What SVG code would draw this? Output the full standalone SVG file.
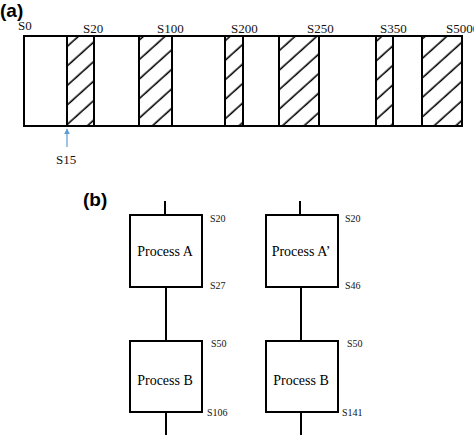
<svg xmlns="http://www.w3.org/2000/svg" width="474" height="435" viewBox="0 0 474 435">
<defs>
<pattern id="hatch" patternUnits="userSpaceOnUse" width="10" height="14.5" patternTransform="rotate(-42)">
<line x1="-1" y1="7" x2="11" y2="7" stroke="#000" stroke-width="1.6"/>
</pattern>
<marker id="arr" viewBox="0 0 10 10" refX="9" refY="5" markerWidth="5" markerHeight="5" orient="auto">
<path d="M0,0 L10,5 L0,10 z" fill="#5b9bd5"/>
</marker>
<style>
.ln{stroke:#000;stroke-width:2;fill:none}
.box{stroke:#000;stroke-width:2;fill:#fff}
.hs{fill:url(#hatch);stroke:#000;stroke-width:2}
.tl{font-family:"Liberation Serif",serif;font-size:13px;fill:#111}
.sl{font-family:"Liberation Serif",serif;font-size:10px;fill:#111}
.pl{font-family:"Liberation Serif",serif;font-size:14px;fill:#000;text-anchor:middle}
.hd{font-family:"Liberation Sans",sans-serif;font-size:19px;font-weight:bold;fill:#000}
</style>
</defs>
<rect width="474" height="435" fill="#fff"/>
<text class="hd" x="0" y="17">(a)</text>
<g id="strip">
<rect x="24" y="36" width="438" height="90" class="ln"/>
<rect x="67" y="36" width="27" height="90" class="hs"/>
<rect x="139" y="36" width="33" height="90" class="hs"/>
<rect x="225" y="36" width="18" height="90" class="hs"/>
<rect x="279" y="36" width="40" height="90" class="hs"/>
<rect x="376" y="36" width="17" height="90" class="hs"/>
<rect x="422" y="36" width="40" height="90" class="hs"/>
<text class="tl" x="18" y="30">S0</text>
<text class="tl" x="83" y="33">S20</text>
<text class="tl" x="157" y="33">S100</text>
<text class="tl" x="231" y="33">S200</text>
<text class="tl" x="307" y="33">S250</text>
<text class="tl" x="380" y="33">S350</text>
<text class="tl" x="446" y="33">S5000</text>
</g>
<g id="s15">
<line x1="67" y1="147" x2="67" y2="129" stroke="#5b9bd5" stroke-width="1.2" marker-end="url(#arr)"/>
<text class="tl" x="56" y="164">S15</text>
</g>
<text class="hd" x="83" y="206">(b)</text>
<g id="connectors">
<line x1="165" y1="201" x2="165" y2="215" class="ln"/>
<line x1="166" y1="287" x2="166" y2="341" class="ln"/>
<line x1="166" y1="412" x2="166" y2="435" class="ln"/>
<line x1="300" y1="201" x2="300" y2="215" class="ln"/>
<line x1="301" y1="287" x2="301" y2="341" class="ln"/>
<line x1="301" y1="412" x2="301" y2="435" class="ln"/>
</g>
<g id="processA">
<rect x="130" y="215" width="72" height="72" class="box"/>
<text class="pl" x="165" y="256">Process A</text>
<text class="sl" x="210" y="222">S20</text>
<text class="sl" x="210" y="289">S27</text>
</g>
<g id="processB1">
<rect x="130" y="341" width="72" height="71" class="box"/>
<text class="pl" x="165" y="385">Process B</text>
<text class="sl" x="211" y="347">S50</text>
<text class="sl" x="207" y="416">S106</text>
</g>
<g id="processA2">
<rect x="266" y="215" width="72" height="72" class="box"/>
<text class="pl" x="301" y="256">Process A’</text>
<text class="sl" x="345" y="222">S20</text>
<text class="sl" x="345" y="289">S46</text>
</g>
<g id="processB2">
<rect x="266" y="341" width="72" height="71" class="box"/>
<text class="pl" x="301" y="385">Process B</text>
<text class="sl" x="347" y="347">S50</text>
<text class="sl" x="342" y="416">S141</text>
</g>
</svg>
